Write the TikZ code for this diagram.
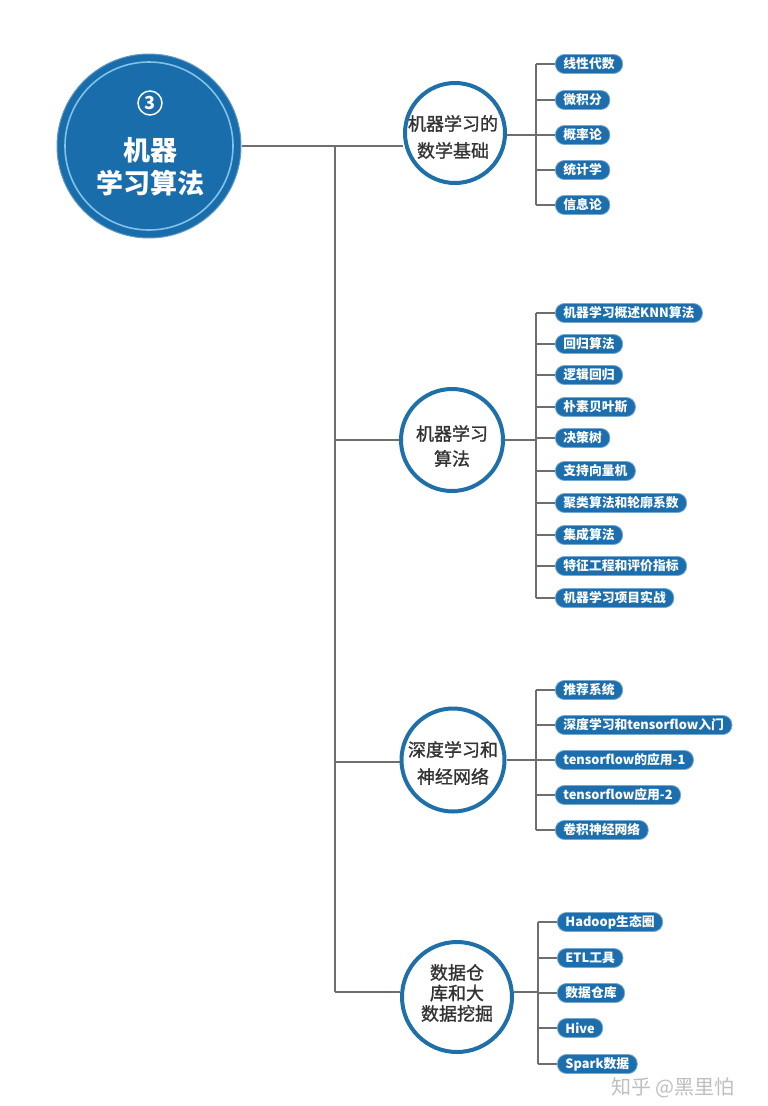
\documentclass[tikz,border=0pt]{standalone}
\usepackage{fontspec}
\setmainfont{Noto Sans CJK SC}
\newfontfamily\subfont{Noto Sans CJK SC}[FakeBold=1.2]
\usetikzlibrary{positioning}
\definecolor{mainblue}{HTML}{1A6DAB}
\definecolor{pillblue}{HTML}{1C6EAD}
\definecolor{ringblue}{HTML}{1F6FA8}
\definecolor{innerring}{HTML}{7FC2EC}
\definecolor{linegray}{HTML}{6E6E6E}
\definecolor{txtgray}{HTML}{333333}
\tikzset{
  leaf/.style={anchor=west, fill=pillblue, draw=pillblue!60!white, line width=0.8pt,
    rounded corners=9pt, minimum height=19pt, inner xsep=8pt, inner ysep=0pt,
    text=white, font=\fontsize{12.8}{12.8}\selectfont\bfseries},
  sub/.style={circle, draw=ringblue, line width=4pt, fill=white, inner sep=0pt,
    text=txtgray, align=center},
  subtext/.style={text=txtgray, align=center},
  conn/.style={draw=linegray, line width=1.1pt},
}
\begin{document}
\begin{tikzpicture}[x=1pt,y=-1pt]
\useasboundingbox (0,0) rectangle (768,1106);
\fill[white] (0,0) rectangle (768,1106);

% main circle
\node[circle, fill=mainblue, draw=mainblue!70!white, line width=1pt, minimum size=184pt, inner sep=0pt] (main) at (149,146) {};
\draw[draw=innerring, line width=1.6pt] (main.center) circle[radius=84pt];
\node[circle, draw=white, line width=1.5pt, minimum size=24pt, inner sep=0pt, text=white,
  font=\fontsize{18}{18}\selectfont\bfseries] (num) at (150,103) {3};
\node[text=white, align=center, font=\fontsize{27}{33}\selectfont\bfseries] (mtext) at (150,167) {机器\\学习算法};

% trunk
\coordinate (t1) at (335,146);
\coordinate (t2) at (335,440);
\coordinate (t3) at (335,762);
\coordinate (t4) at (335,992);
\draw[conn] (main.east |- t1) -- (t1);
\draw[conn] (t1) -- (t4);

% sub circles
\node[sub, minimum size=100pt] (s1) at (455,133) {};
\node[subtext, font=\fontsize{18}{27}\subfont] (s1t) at (453,137) {机器学习的\\数学基础};
\node[sub, minimum size=102pt] (s2) at (452,440) {};
\node[subtext, font=\fontsize{18}{25}\subfont] (s2t) at (452,446) {机器学习\\算法};
\node[sub, minimum size=103pt] (s3) at (453,760) {};
\node[subtext, font=\fontsize{18}{27}\subfont] (s3t) at (453,763) {深度学习和\\神经网络};
\node[sub, minimum size=110pt] (s4) at (457,997) {};
\node[subtext, font=\fontsize{18}{20.5}\subfont] (s4t) at (457,993) {数据仓\\库和大\\数据挖掘};

\draw[conn] (t1) -- (s1.west |- t1);
\draw[conn] (t2) -- (s2.west);
\draw[conn] (t3) -- (s3.west |- t3);
\draw[conn] (t4) -- (s4.west |- t4);

% group 1 leaves
\node[leaf] (a1) at (555,64) {线性代数};
\node[leaf] (a2) at (555,100) {微积分};
\node[leaf] (a3) at (555,135) {概率论};
\node[leaf] (a4) at (555,170) {统计学};
\node[leaf] (a5) at (555,205) {信息论};
\coordinate (b1) at (536,135);
\draw[conn] (s1.east |- b1) -- (b1);
\draw[conn] (536,0 |- a1.west) -- (536,0 |- a5.west);
\foreach \n in {a1,a2,a3,a4,a5} \draw[conn] (536,0 |- \n.west) -- (\n.west);

% group 2 leaves
\node[leaf] (c1) at (555,313) {机器学习概述KNN算法};
\node[leaf] (c2) at (555,344) {回归算法};
\node[leaf] (c3) at (555,375) {逻辑回归};
\node[leaf] (c4) at (555,407) {朴素贝叶斯};
\node[leaf] (c5) at (555,438) {决策树};
\node[leaf] (c6) at (555,471) {支持向量机};
\node[leaf] (c7) at (555,503) {聚类算法和轮廓系数};
\node[leaf] (c8) at (555,535) {集成算法};
\node[leaf] (c9) at (555,566) {特征工程和评价指标};
\node[leaf] (c10) at (555,598) {机器学习项目实战};
\coordinate (b2) at (536,440);
\draw[conn] (s2.east) -- (b2);
\draw[conn] (536,0 |- c1.west) -- (536,0 |- c10.west);
\foreach \n in {c1,c2,c3,c4,c5,c6,c7,c8,c9,c10} \draw[conn] (536,0 |- \n.west) -- (\n.west);

% group 3 leaves
\node[leaf] (d1) at (555,690) {推荐系统};
\node[leaf] (d2) at (555,725) {深度学习和tensorflow入门};
\node[leaf] (d3) at (555,760) {tensorflow的应用-1};
\node[leaf] (d4) at (555,795) {tensorflow应用-2};
\node[leaf] (d5) at (555,830) {卷积神经网络};
\coordinate (b3) at (536,760);
\draw[conn] (s3.east |- b3) -- (b3);
\draw[conn] (536,0 |- d1.west) -- (536,0 |- d5.west);
\foreach \n in {d1,d2,d3,d4,d5} \draw[conn] (536,0 |- \n.west) -- (\n.west);

% group 4 leaves
\node[leaf] (e1) at (557,922) {Hadoop生态圈};
\node[leaf] (e2) at (557,958) {ETL工具};
\node[leaf] (e3) at (557,993) {数据仓库};
\node[leaf] (e4) at (557,1028) {Hive};
\node[leaf] (e5) at (557,1064) {Spark数据};
\coordinate (b4) at (538,992);
\draw[conn] (s4.east |- b4) -- (b4);
\draw[conn] (538,0 |- e1.west) -- (538,0 |- e5.west);
\foreach \n in {e1,e2,e3,e4,e5} \draw[conn] (538,0 |- \n.west) -- (\n.west);

% watermark
\node[text=gray!50, font=\fontsize{20}{20}\selectfont, anchor=west, inner sep=1pt] (wm) at (610,1088) {知乎 @黑里怕};
\end{tikzpicture}
\end{document}
